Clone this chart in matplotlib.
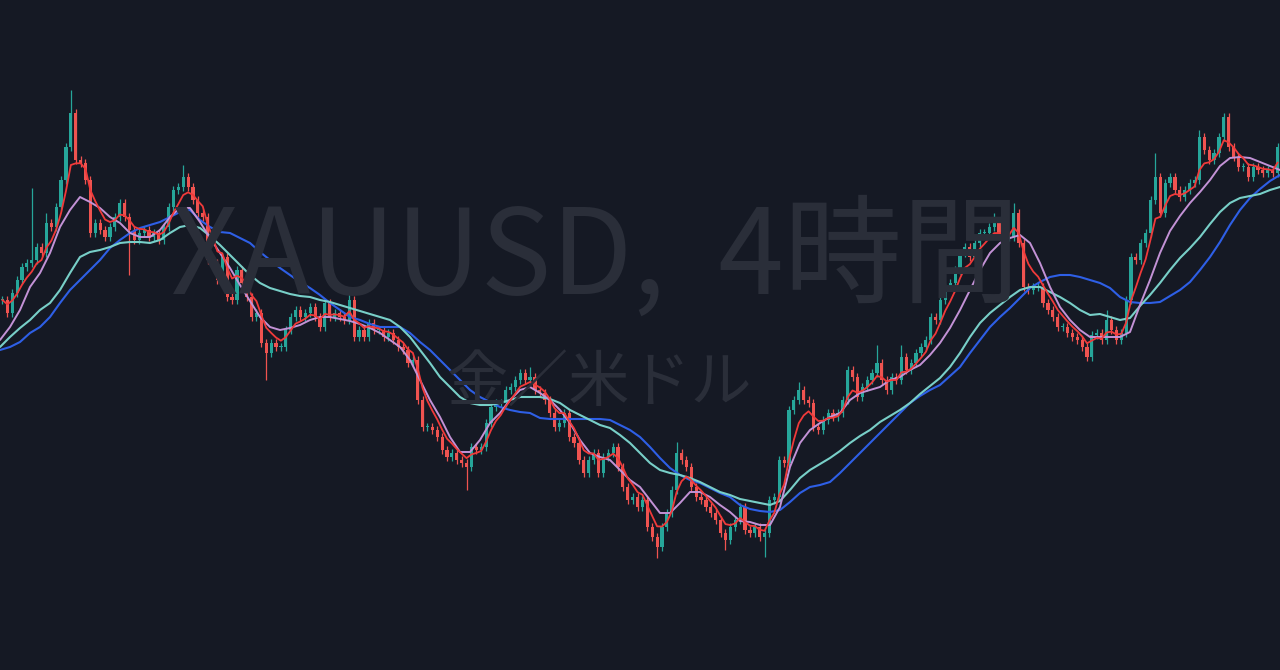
import numpy as np
import pandas as pd
import matplotlib
matplotlib.use("Agg")
import matplotlib.pyplot as plt

# XAUUSD 4h closes (left -> right)
closes = [
    1850, 1837, 1857, 1870, 1883, 1887, 1890, 1903, 1897, 1927,
    1923, 1943, 1970, 2003, 2037, 1990, 1987, 1970, 1917, 1927,
    1920, 1913, 1923, 1933, 1947, 1933, 1920, 1910, 1917, 1920,
    1913, 1917, 1910, 1923, 1943, 1960, 1963, 1973, 1963,
    1950, 1937, 1933, 1890, 1887, 1870, 1893, 1853, 1850, 1880,
    1867, 1853, 1833, 1837, 1807, 1797, 1807, 1803, 1803, 1820,
    1833, 1840, 1833, 1837, 1843, 1833, 1823, 1847, 1833, 1837,
    1833, 1830, 1850, 1813, 1820, 1813, 1827,
    1820, 1820, 1813, 1817, 1810, 1803, 1800, 1787, 1790, 1750,
    1723, 1723, 1720, 1713, 1700, 1693, 1697, 1690, 1687, 1683,
    1703, 1700, 1703, 1727, 1743, 1747, 1747, 1760, 1763, 1770,
    1777, 1770, 1773, 1760, 1757, 1750, 1737, 1723,
    1727, 1737, 1713, 1707, 1690, 1677, 1690, 1697, 1677, 1693,
    1697, 1703, 1683, 1663, 1650, 1653, 1643, 1650, 1623, 1613,
    1603, 1623, 1637, 1660, 1697, 1690, 1683, 1663, 1653, 1650,
    1643, 1637, 1630, 1617, 1610, 1623,
    1630, 1643, 1620, 1617, 1623, 1613, 1617, 1650, 1653, 1690,
    1687, 1740, 1750, 1760, 1750, 1747, 1723, 1720, 1730, 1737,
    1733, 1737, 1750, 1780, 1773, 1753, 1763, 1770, 1777, 1787,
    1770, 1760, 1773, 1770, 1793, 1780, 1787,
    1797, 1803, 1810, 1833, 1830, 1850, 1863, 1867, 1880, 1897,
    1903, 1893, 1907, 1917, 1917, 1923, 1927, 1917, 1913, 1913,
    1937, 1907, 1863, 1860, 1863, 1863, 1847, 1840, 1833, 1823,
    1823, 1817, 1813, 1810, 1803, 1793,
    1815, 1817, 1810, 1830, 1820, 1810, 1817, 1850, 1893, 1890,
    1907, 1917, 1950, 1973, 1937, 1967, 1973, 1960, 1953, 1960,
    1967, 1970, 2013, 2000, 1990, 1997, 2013, 2033, 2003, 1993,
    1983, 1983, 1973, 1983, 1980, 1977, 1980, 1977, 2003,
]

# long wicks that stand out (bar number -> price)
spike_high = {6: 1962, 9: 1937, 14: 2060, 37: 1985, 71: 1863, 108: 1783,
              138: 1708, 163: 1768, 179: 1805, 184: 1805, 203: 1937,
              207: 1947, 226: 1840, 236: 1997, 245: 2020, 250: 2037}
spike_low = {26: 1875, 54: 1770, 95: 1660, 134: 1592, 148: 1600, 156: 1593}
wick = 4

# slower moving averages, sampled evenly across the chart
ma_purple = [
    1810, 1823, 1840, 1863, 1877, 1897, 1923, 1940, 1953, 1948,
    1942, 1933, 1927, 1917, 1913, 1913, 1920, 1933, 1942, 1942,
    1928, 1912, 1897, 1882, 1865, 1849, 1833, 1823, 1820, 1822,
    1825, 1830, 1833, 1833, 1831, 1829, 1826, 1822, 1817, 1810,
    1803, 1790, 1770, 1750, 1733, 1713, 1698, 1698, 1710, 1727,
    1737, 1750, 1760, 1763, 1757, 1750, 1740, 1727, 1710, 1697,
    1693, 1690, 1680, 1670, 1663, 1650, 1637, 1637, 1647, 1658,
    1658, 1653, 1645, 1638, 1629, 1628, 1625, 1625, 1643, 1683,
    1707, 1720, 1727, 1733, 1737, 1750, 1757, 1760, 1763, 1770,
    1773, 1780, 1785, 1795, 1807, 1822, 1840, 1860, 1880, 1897,
    1907, 1912, 1915, 1907, 1887, 1863, 1843, 1830, 1820, 1813,
    1813, 1813, 1813, 1818, 1845, 1870, 1897, 1919, 1934, 1947,
    1958, 1970, 1984, 1992, 1993, 1992, 1988, 1984, 1980,
]
ma_teal = [
    1803, 1813, 1822, 1830, 1840, 1847, 1860, 1877, 1893, 1898,
    1900, 1903, 1907, 1908, 1908, 1907, 1910, 1917, 1923, 1925,
    1922, 1914, 1905, 1895, 1885, 1875, 1867, 1862, 1859, 1856,
    1854, 1853, 1850, 1848, 1845, 1842, 1839, 1836, 1833, 1830,
    1823, 1813, 1800, 1787, 1773, 1763, 1753, 1747, 1745, 1745,
    1747, 1750, 1753, 1753, 1753, 1751, 1747, 1740, 1735, 1730,
    1725, 1722, 1715, 1707, 1697, 1687, 1680, 1677, 1675, 1672,
    1668, 1663, 1658, 1655, 1651, 1649, 1647, 1645, 1649, 1660,
    1672, 1680, 1686, 1692, 1699, 1707, 1714, 1720, 1728, 1734,
    1740, 1747, 1756, 1764, 1772, 1783, 1797, 1813, 1827, 1837,
    1845, 1853, 1860, 1863, 1863, 1858, 1853, 1847, 1840, 1835,
    1836, 1833, 1830, 1832, 1844, 1855, 1867, 1880, 1892, 1902,
    1913, 1926, 1938, 1947, 1952, 1954, 1956, 1960, 1963,
]
ma_blue = [
    1800, 1803, 1808, 1817, 1823, 1833, 1847, 1860, 1870, 1880,
    1890, 1902, 1910, 1917, 1922, 1925, 1928, 1933, 1938, 1940,
    1930, 1923, 1918, 1917, 1912, 1907, 1898, 1890, 1882, 1875,
    1868, 1862, 1855, 1847, 1840, 1833, 1830, 1826, 1823, 1823,
    1823, 1817, 1808, 1800, 1790, 1780, 1770, 1760, 1753, 1748,
    1743, 1740, 1738, 1737, 1732, 1731, 1731, 1731, 1731, 1731,
    1731, 1730, 1725, 1720, 1713, 1703, 1692, 1682, 1675, 1670,
    1667, 1662, 1657, 1653, 1645, 1641, 1639, 1638, 1640, 1648,
    1657, 1663, 1665, 1668, 1677, 1687, 1697, 1707, 1717, 1727,
    1737, 1747, 1754, 1760, 1765, 1774, 1783, 1797, 1810, 1823,
    1833, 1842, 1852, 1862, 1868, 1873, 1875, 1875, 1873, 1870,
    1867, 1862, 1853, 1848, 1847, 1847, 1848, 1854, 1860, 1868,
    1880, 1893, 1908, 1925, 1940, 1952, 1961, 1969, 1975,
]

title = "XAUUSD,  4時間"
subtitle = "金／米ドル"

bg = "#151924"
up_col = "#26a69a"
down_col = "#ef5350"
mark_col = "#2a2e39"
fonts = ["Noto Sans CJK JP", "DejaVu Sans"]

c = np.array(closes, dtype=float)
o = np.concatenate([[c[0]], c[:-1]])
n = len(c)
hi = np.maximum(o, c) + wick
lo = np.minimum(o, c) - wick
for i, v in spike_high.items():
    hi[i] = v
for i, v in spike_low.items():
    lo[i] = v
x = np.arange(n)
cols = np.where(c >= o, up_col, down_col)

fig = plt.figure(figsize=(12.8, 6.7), dpi=100, facecolor=bg)
ax = fig.add_axes([0, 0, 1, 1])
ax.set_facecolor(bg)
ax.set_xlim(-0.5, n - 0.5)
ax.set_ylim(1480, 2150)
ax.axis("off")

# watermark
fig.text(595 / 1280, 1 - 294 / 670, title, ha="center", va="baseline",
         fontsize=85, color=mark_col, family=fonts, zorder=0)
fig.text(600 / 1280, 1 - 383 / 670, subtitle, ha="center", va="center",
         fontsize=44, color=mark_col, family=fonts, zorder=0)

# candles
ax.vlines(x, lo, hi, colors=cols, linewidth=0.9, zorder=2)
ax.bar(x, np.maximum(np.abs(c - o), 1.0), bottom=np.minimum(o, c), width=0.65,
       color=cols, linewidth=0, zorder=3)

# moving averages
ma_x = np.linspace(-0.5, n - 0.5, len(ma_blue))
line_kw = dict(solid_joinstyle="round", solid_capstyle="round", zorder=4)
ax.plot(ma_x, ma_blue, color="#2e5fe6", linewidth=1.5, **line_kw)
ax.plot(ma_x, ma_teal, color="#78cfc8", linewidth=1.5, **line_kw)
ax.plot(ma_x, ma_purple, color="#c392d6", linewidth=1.4, **line_kw)
fast = pd.Series(c).ewm(span=5, adjust=False).mean()
ax.plot(x, fast, color="#f03a3a", linewidth=1.3, solid_joinstyle="round", zorder=5)

fig.savefig("out.png", dpi=100, facecolor=bg)
